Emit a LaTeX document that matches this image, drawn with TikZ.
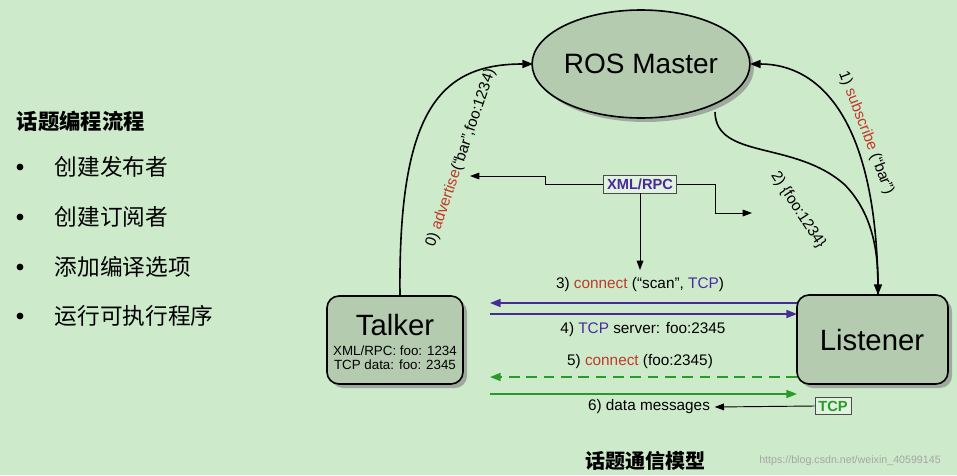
\documentclass[tikz,border=0pt]{standalone}
\usepackage{fontspec}
\setmainfont{Liberation Sans}
\newfontfamily\cjk{Noto Sans CJK SC}
\usetikzlibrary{shapes.geometric,arrows.meta,shadows}
\definecolor{bg}{HTML}{CDEACA}
\definecolor{nodefill}{HTML}{B4CBB0}
\definecolor{rd}{HTML}{C0392B}
\definecolor{pu}{HTML}{4A2A9A}
\definecolor{gr}{HTML}{2A9A2A}
\begin{document}
\begin{tikzpicture}[x=0.75pt,y=-0.75pt,
  box/.style={draw=black,line width=1.2pt,fill=nodefill,rounded corners=9pt,drop shadow={shadow xshift=3pt,shadow yshift=-3pt,opacity=0.6}},
  ar/.style={-{Triangle[length=7pt,width=5pt]},line width=0.7pt},
  big/.style={-{Triangle[length=8pt,width=6pt]},line width=1.2pt},
  lab/.style={font=\fontsize{11.5}{13}\selectfont},
  smallbox/.style={draw=black!70,fill=bg!60!white,inner sep=2.5pt,font=\bfseries\fontsize{11}{13}\selectfont}]
\fill[bg] (0,0) rectangle (957,475);
\useasboundingbox (0,0) rectangle (957,475);
% left list
\node[anchor=west,font=\cjk\bfseries\fontsize{16}{19}\selectfont] (t) at (12,121) {话题编程流程};
\foreach \y/\s [count=\i] in {167/创建发布者,217/创建订阅者,267/添加编译选项,316/运行可执行程序}{
  \node[circle,fill=black,inner sep=1.8pt] (b\i) at (20,\y) {};
  \node[anchor=west,font=\cjk\fontsize{17}{20}\selectfont] (l\i) at (50,\y) {\s};
}
% nodes
\node[ellipse,draw,line width=1.2pt,fill=nodefill,inner sep=0pt,minimum width=216pt*0.75,minimum height=108pt*0.75,
  drop shadow={shadow xshift=3pt,shadow yshift=-3pt,opacity=0.6},font=\fontsize{21}{25}\selectfont] (m) at (641,64) {ROS Master};
\draw[box] (327,296) rectangle (463,384);
\node[font=\fontsize{22}{26}\selectfont] (talker) at (395,325) {Talker};
\node[font=\fontsize{10}{11.5}\selectfont,align=center] (tinfo) at (395,358) {XML/RPC: foo: 1234\\[-1pt]TCP data: foo: 2345};
\draw[box] (797,295) rectangle (948,384);
\node[font=\fontsize{22}{26}\selectfont] (listener) at (872,340) {Listener};
\node[smallbox,text=pu] (x) at (640,184) {XML/RPC};
\node[smallbox,text=gr] (tcp) at (833,406) {TCP};
% coordinates
\coordinate (ttop) at (400,296);
\coordinate (ltop) at (878,295);
\coordinate (mL) at (533,64);
\coordinate (mR) at (750,64);
\coordinate (mB) at (715,112);
% curves
\draw[big] (ttop) .. controls (398,110) and (440,64) .. (mL);
\draw[big] (ltop) .. controls (878,120) and (820,64) .. (mR);
\draw[big] (mB) .. controls (716,160) and (795,140) .. (845,185) .. controls (874,215) and (878,255) .. (ltop);
\node[lab,rotate=71] (l0) at (461,158) {0) \textcolor{rd}{advertise}(“bar”,foo:1234)};
\node[lab,rotate=-69] (l1) at (866,133) {1) \textcolor{rd}{subscribe} (“bar”)};
\node[lab,rotate=-57] (l2) at (798,210) {2) \{foo:1234\}};
% xml arrows
\draw[ar] (x.west) -- (545,184) -- (545,176) -- (470,176);
\draw[ar] (x.east) -- (715,184) -- (715,213) -- (752,213);
\draw[ar] (x.south) -- (640,270);
% horizontal arrows
\draw[big,pu] (797,303) -- (490,303);
\draw[big,pu] (490,314) -- (797,314);
\draw[big,gr,dash pattern=on 8pt off 5pt] (797,377) -- (490,377);
\draw[big,gr] (490,394) -- (797,394);
\node[lab] (l3) at (640,285) {3) \textcolor{rd}{connect} (“scan”, \textcolor{pu}{TCP})};
\node[lab] (l4) at (643,330) {4) \textcolor{pu}{TCP} server: foo:2345};
\node[lab] (l5) at (640,362) {5) \textcolor{rd}{connect} (foo:2345)};
\node[lab] (l6) at (649,407) {6) data messages};
\draw[ar] (tcp.west) -- (l6.east);
% caption
\node[font=\cjk\bfseries\fontsize{15}{17}\selectfont] (cap) at (645,461) {话题通信模型};
\node[font=\fontsize{8}{9}\selectfont,text=black!35] (wm) at (850,461) {https://blog.csdn.net/weixin\_40599145};
\end{tikzpicture}
\end{document}
